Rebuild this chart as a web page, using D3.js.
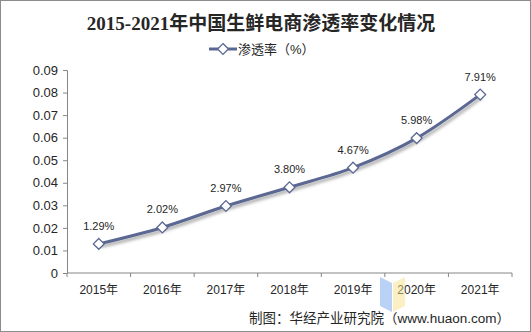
<!DOCTYPE html>
<html>
<head>
<meta charset="utf-8">
<script src="https://cdn.jsdelivr.net/npm/d3@7/dist/d3.min.js"></script>
<style>
  html, body { margin: 0; padding: 0; background: #fff; }
  svg { display: block; }
  text { font-family: "Liberation Sans", "Noto Sans CJK SC", sans-serif; }
</style>
</head>
<body>
<svg id="chart" width="531" height="332"></svg>
<script>
// Fresh-food e-commerce penetration rate in China, 2015–2021
const years = ["2015年", "2016年", "2017年", "2018年", "2019年", "2020年", "2021年"];
const ratePct = [1.29, 2.02, 2.97, 3.80, 4.67, 5.98, 7.91];
const yTicks = [0, 0.01, 0.02, 0.03, 0.04, 0.05, 0.06, 0.07, 0.08, 0.09];

const titleText = "2015-2021年中国生鲜电商渗透率变化情况";
const legendText = "渗透率（%）";
const sourceText = "制图：华经产业研究院（www.huaon.com）";

const W = 531, H = 332;
const margin = { left: 67, right: 19, top: 70, bottom: 59 };
const svg = d3.select("#chart");

const defs = svg.append("defs");
const f = defs.append("filter").attr("id", "shadow")
  .attr("x", "-10%").attr("y", "-10%").attr("width", "130%").attr("height", "140%");
f.append("feDropShadow").attr("dx", 1.5).attr("dy", 2.5).attr("stdDeviation", 1.6)
  .attr("flood-color", "#000").attr("flood-opacity", 0.35);

// outer frame
svg.append("rect").attr("x", 0.5).attr("y", 0.5).attr("width", W - 1).attr("height", H - 1)
  .attr("fill", "#fff").attr("stroke", "#8c8c8c");

const x = d3.scaleBand().domain(years).range([margin.left, W - margin.right]);
const y = d3.scaleLinear().domain([0, 0.09]).range([H - margin.bottom, margin.top]);

// y axis
const yAxis = svg.append("g").attr("transform", `translate(${margin.left},0)`)
  .call(d3.axisLeft(y).tickValues(yTicks).tickSize(4).tickPadding(5)
    .tickFormat(d => d === 0 ? "0" : d3.format(".2f")(d)));
yAxis.select(".domain").attr("stroke", "#868686");
yAxis.selectAll(".tick line").attr("stroke", "#868686");
yAxis.selectAll(".tick text").attr("fill", "#262626").style("font-size", "13px");

// x axis with ticks between categories
const xAxisG = svg.append("g").attr("transform", `translate(0,${H - margin.bottom})`);
xAxisG.append("line").attr("x1", margin.left).attr("x2", W - margin.right)
  .attr("stroke", "#868686");
const bounds = years.map(d => x(d)).concat([x(years[years.length - 1]) + x.bandwidth()]);
xAxisG.selectAll("line.tk").data(bounds).join("line").attr("class", "tk")
  .attr("x1", d => d).attr("x2", d => d).attr("y1", 0).attr("y2", 4)
  .attr("stroke", "#868686");
xAxisG.selectAll("text").data(years).join("text")
  .attr("x", d => x(d) + x.bandwidth() / 2).attr("y", 21)
  .attr("text-anchor", "middle").attr("fill", "#262626").style("font-size", "12px")
  .text(d => d);

// faint logo mark behind the last categories
const wm = svg.append("g").attr("opacity", 0.5);
wm.append("path").attr("d", "M380,277 L392,283 L392,312 L380,306 Z").attr("fill", "#7aa7f0");
wm.append("path").attr("d", "M393,283 L405,277 L405,306 L393,312 Z").attr("fill", "#f8e08a");

const cx = (d, i) => x(years[i]) + x.bandwidth() / 2;
const cy = d => y(d / 100);

const line = d3.line().x((d, i) => cx(d, i)).y(d => cy(d)).curve(d3.curveMonotoneX);
svg.append("path").datum(ratePct).attr("d", line)
  .attr("fill", "none").attr("stroke", "#5a6792").attr("stroke-width", 3)
  .attr("filter", "url(#shadow)");

// diamond markers
const diamond = d3.symbol().type(d3.symbolDiamond2).size(75);
svg.selectAll("path.mk").data(ratePct).join("path").attr("class", "mk")
  .attr("d", diamond)
  .attr("transform", (d, i) => `translate(${cx(d, i)},${cy(d)})`)
  .attr("fill", "#fff").attr("stroke", "#5a6792").attr("stroke-width", 1.3);

// value labels
svg.selectAll("text.val").data(ratePct).join("text").attr("class", "val")
  .attr("x", (d, i) => cx(d, i)).attr("y", d => cy(d) - 14)
  .attr("text-anchor", "middle").attr("fill", "#262626").style("font-size", "11px")
  .text(d => d3.format(".2f")(d) + "%");

// title
svg.append("text").attr("x", 261).attr("y", 30).attr("text-anchor", "middle")
  .attr("fill", "#262626").style("font-size", "19px").style("font-weight", "bold")
  .style("font-family", "'Liberation Serif', 'Noto Sans CJK SC', serif")
  .text(titleText);

// legend
const lg = svg.append("g").attr("transform", "translate(209,49)");
lg.append("line").attr("x1", 0).attr("x2", 28).attr("stroke", "#5a6792").attr("stroke-width", 3);
lg.append("path").attr("d", diamond).attr("transform", "translate(14,0)")
  .attr("fill", "#fff").attr("stroke", "#5a6792").attr("stroke-width", 1.3);
lg.append("text").attr("x", 29).attr("y", 5).attr("fill", "#262626")
  .style("font-size", "13px").text(legendText);

// source note
svg.append("text").attr("x", 510).attr("y", 323).attr("text-anchor", "end")
  .attr("fill", "#262626").style("font-size", "13.5px").text(sourceText);
</script>
</body>
</html>
